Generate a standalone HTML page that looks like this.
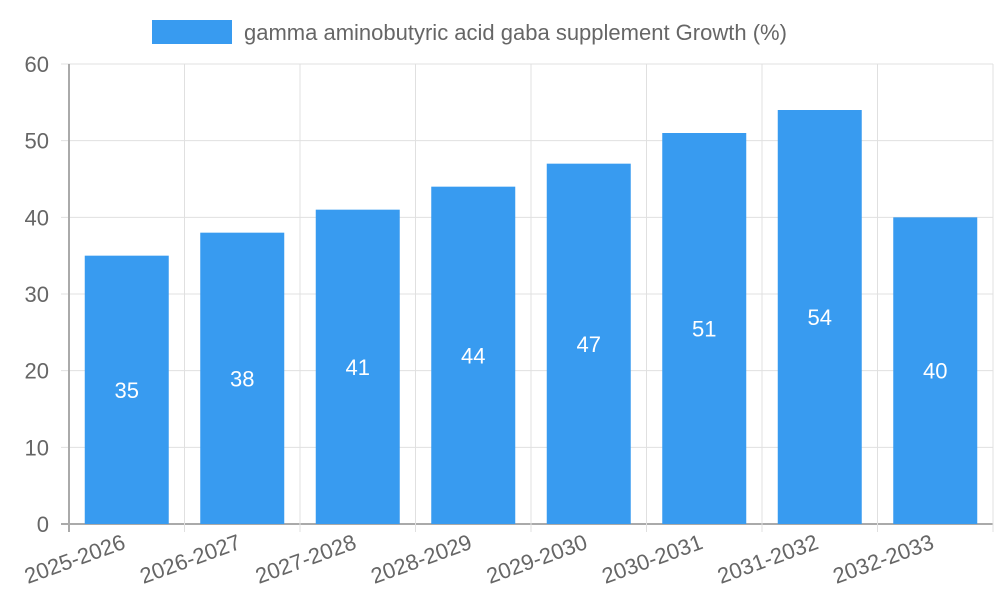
<!DOCTYPE html>
<html><head><meta charset="utf-8"><style>
body{margin:0;background:#fff;}
svg{display:block;font-family:"Liberation Sans",sans-serif;}
</style></head><body>
<svg id="chart" width="1000" height="600">
<g>
<rect x="152" y="20" width="80" height="24" fill="#389bf0"></rect>
<text x="244" y="40" font-size="22" fill="#666">gamma aminobutyric acid gaba supplement Growth (%)</text>
</g>
<g id="grid"></g>
<g id="bars"></g>
<g id="axes"></g>
</svg>
<script>
const categories=["2025-2026","2026-2027","2027-2028","2028-2029","2029-2030","2030-2031","2031-2032","2032-2033"];
const values=[35,38,41,44,47,51,54,40];
const yTicks=[0,10,20,30,40,50,60];
const X0=69,X1=993,Y0=524,Y1=64,YMAX=60;
const NS="http://www.w3.org/2000/svg";
const bw=(X1-X0)/categories.length;
function y(v){return Y0-(v/YMAX)*(Y0-Y1);}
function x(i){return X0+i*bw;}
function mk(t,a,p){const e=document.createElementNS(NS,t);for(const k in a)e.setAttribute(k,a[k]);p.appendChild(e);return e;}
const grid=document.getElementById('grid'),bars=document.getElementById('bars'),axes=document.getElementById('axes');
yTicks.forEach(t=>{
 const l=mk('line',{x1:X0-8,x2:X1,y1:y(t),y2:y(t),stroke:t===0?'#aaa':'#e0e0e0','stroke-width':t===0?2:1},grid);
 
 
 const tx=mk('text',{x:X0-20,y:y(t)+8,'text-anchor':'end','font-size':22,fill:'#666'},axes);
 tx.textContent=t;
 
 
});
for(let i=0;i<=categories.length;i++){
 const l=mk('line',{x1:x(i),x2:x(i),y1:Y1,y2:Y0+8,stroke:i===0?'#aaa':'#e0e0e0','stroke-width':i===0?2:1},grid);
 
 
}
categories.forEach((c,i)=>{
 const cx=x(i)+bw/2,w=84;
 const r=mk('rect',{x:cx-w/2,y:y(values[i]),width:w,height:Y0-y(values[i]),fill:'#389bf0'},bars);
 
 
 const v=mk('text',{x:cx,y:(y(values[i])+Y0)/2+8,'text-anchor':'middle','font-size':22,fill:'#fff'},bars);
 v.textContent=values[i];
 
 
 const t=mk('text',{x:cx,y:548,'text-anchor':'end','font-size':22,fill:'#666',transform:`rotate(-20 ${cx} 548)`},axes);
 t.textContent=c;
 
 
});
</script>
</body></html>
